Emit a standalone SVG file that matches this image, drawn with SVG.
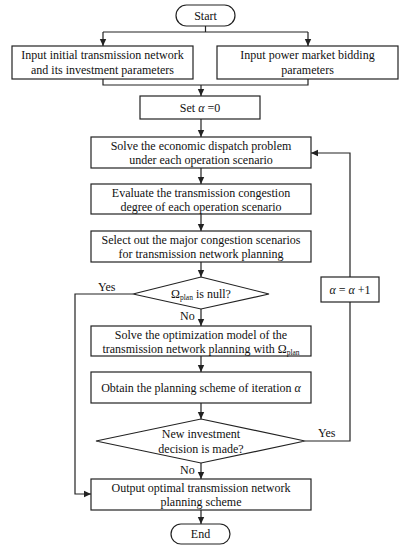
<svg xmlns="http://www.w3.org/2000/svg" width="406" height="550" viewBox="0 0 406 550">
<defs>
<marker id="ah" markerWidth="8" markerHeight="8" refX="7" refY="4" orient="auto" markerUnits="userSpaceOnUse">
<path d="M0,0.8 L7,4 L0,7.2 Z" fill="#222"/>
</marker>
<style>
.n{fill:#fff;stroke:#222;stroke-width:1.2}
.t{font-family:"Liberation Serif","Times New Roman",serif;font-size:12px;fill:#111;text-anchor:middle}
.l{font-family:"Liberation Serif","Times New Roman",serif;font-size:12px;fill:#111}
.c{fill:none;stroke:#222;stroke-width:1.2}
</style>
</defs>
<rect width="406" height="550" fill="#fff"/>
<g id="connectors">
<path class="c" d="M205.5,26 V32"/>
<path class="c" d="M103,32 H308"/>
<path class="c" d="M103,32 V46" marker-end="url(#ah)"/>
<path class="c" d="M308,32 V46" marker-end="url(#ah)"/>
<path class="c" d="M103,79 V85 H308 V79"/>
<path class="c" d="M201,85 V96" marker-end="url(#ah)"/>
<path class="c" d="M201,119 V137" marker-end="url(#ah)"/>
<path class="c" d="M201,168 V184" marker-end="url(#ah)"/>
<path class="c" d="M201,214 V231" marker-end="url(#ah)"/>
<path class="c" d="M201,262 V277" marker-end="url(#ah)"/>
<path class="c" d="M201,309 V326" marker-end="url(#ah)"/>
<path class="c" d="M201,356 V372" marker-end="url(#ah)"/>
<path class="c" d="M201,403 V419" marker-end="url(#ah)"/>
<path class="c" d="M201,463 V479" marker-end="url(#ah)"/>
<path class="c" d="M201,510 V524" marker-end="url(#ah)"/>
<path class="c" d="M133,294 H75 V494 H91" marker-end="url(#ah)"/>
<path class="c" d="M305,441 H350 V153 H311" marker-end="url(#ah)"/>
</g>
<g id="start"><rect class="n" x="176" y="5" width="59" height="21" rx="10.5"/><text class="t" x="205.5" y="19.5">Start</text></g>
<g id="input1"><rect class="n" x="12" y="46" width="181" height="33"/><text class="t" x="102.5" y="59">Input initial transmission network</text><text class="t" x="102.5" y="74">and its investment parameters</text></g>
<g id="input2"><rect class="n" x="217" y="46" width="181" height="33"/><text class="t" x="307.5" y="59">Input power market bidding</text><text class="t" x="307.5" y="74">parameters</text></g>
<g id="set"><rect class="n" x="140" y="96" width="120" height="23"/><text class="t" x="200" y="111.5">Set <tspan font-style="italic">α</tspan> =0</text></g>
<g id="solve"><rect class="n" x="91" y="137" width="220" height="31"/><text class="t" x="201" y="150">Solve the economic dispatch problem</text><text class="t" x="201" y="164">under each operation scenario</text></g>
<g id="evaluate"><rect class="n" x="91" y="184" width="220" height="30"/><text class="t" x="201" y="197">Evaluate the transmission congestion</text><text class="t" x="201" y="211">degree of each operation scenario</text></g>
<g id="select"><rect class="n" x="91" y="231" width="220" height="31"/><text class="t" x="201" y="244">Select out the major congestion scenarios</text><text class="t" x="201" y="258">for transmission network planning</text></g>
<g id="null"><polygon class="n" points="201,277 269,294 201,309 133,294"/><text class="t" x="201" y="298">Ω<tspan font-size="7.5" dy="2">plan</tspan><tspan dy="-2"> is null?</tspan></text></g>
<g id="optimize"><rect class="n" x="91" y="326" width="220" height="30"/><text class="t" x="201" y="339">Solve the optimization model of the</text><text class="t" x="201" y="353">transmission network planning with Ω<tspan font-size="7.5" dy="2">plan</tspan></text></g>
<g id="obtain"><rect class="n" x="91" y="372" width="220" height="31"/><text class="t" x="201" y="392">Obtain the planning scheme of iteration  <tspan font-style="italic">α</tspan></text></g>
<g id="decision"><polygon class="n" points="201,419 305,441 201,463 96,441"/><text class="t" x="201" y="438">New investment</text><text class="t" x="201" y="453">decision is made?</text></g>
<g id="incr"><rect class="n" x="321" y="277" width="58" height="25"/><text class="t" x="350" y="293.5"><tspan font-style="italic">α</tspan> = <tspan font-style="italic">α</tspan> +1</text></g>
<g id="output"><rect class="n" x="91" y="479" width="220" height="31"/><text class="t" x="201" y="492">Output optimal transmission network</text><text class="t" x="201" y="506">planning scheme</text></g>
<g id="end"><rect class="n" x="171" y="524" width="59" height="20" rx="10"/><text class="t" x="200.5" y="538">End</text></g>
<g id="labels">
<text class="l" x="98" y="291">Yes</text>
<text class="l" x="180" y="320">No</text>
<text class="l" x="318" y="437">Yes</text>
<text class="l" x="180" y="474">No</text>
</g>
</svg>
